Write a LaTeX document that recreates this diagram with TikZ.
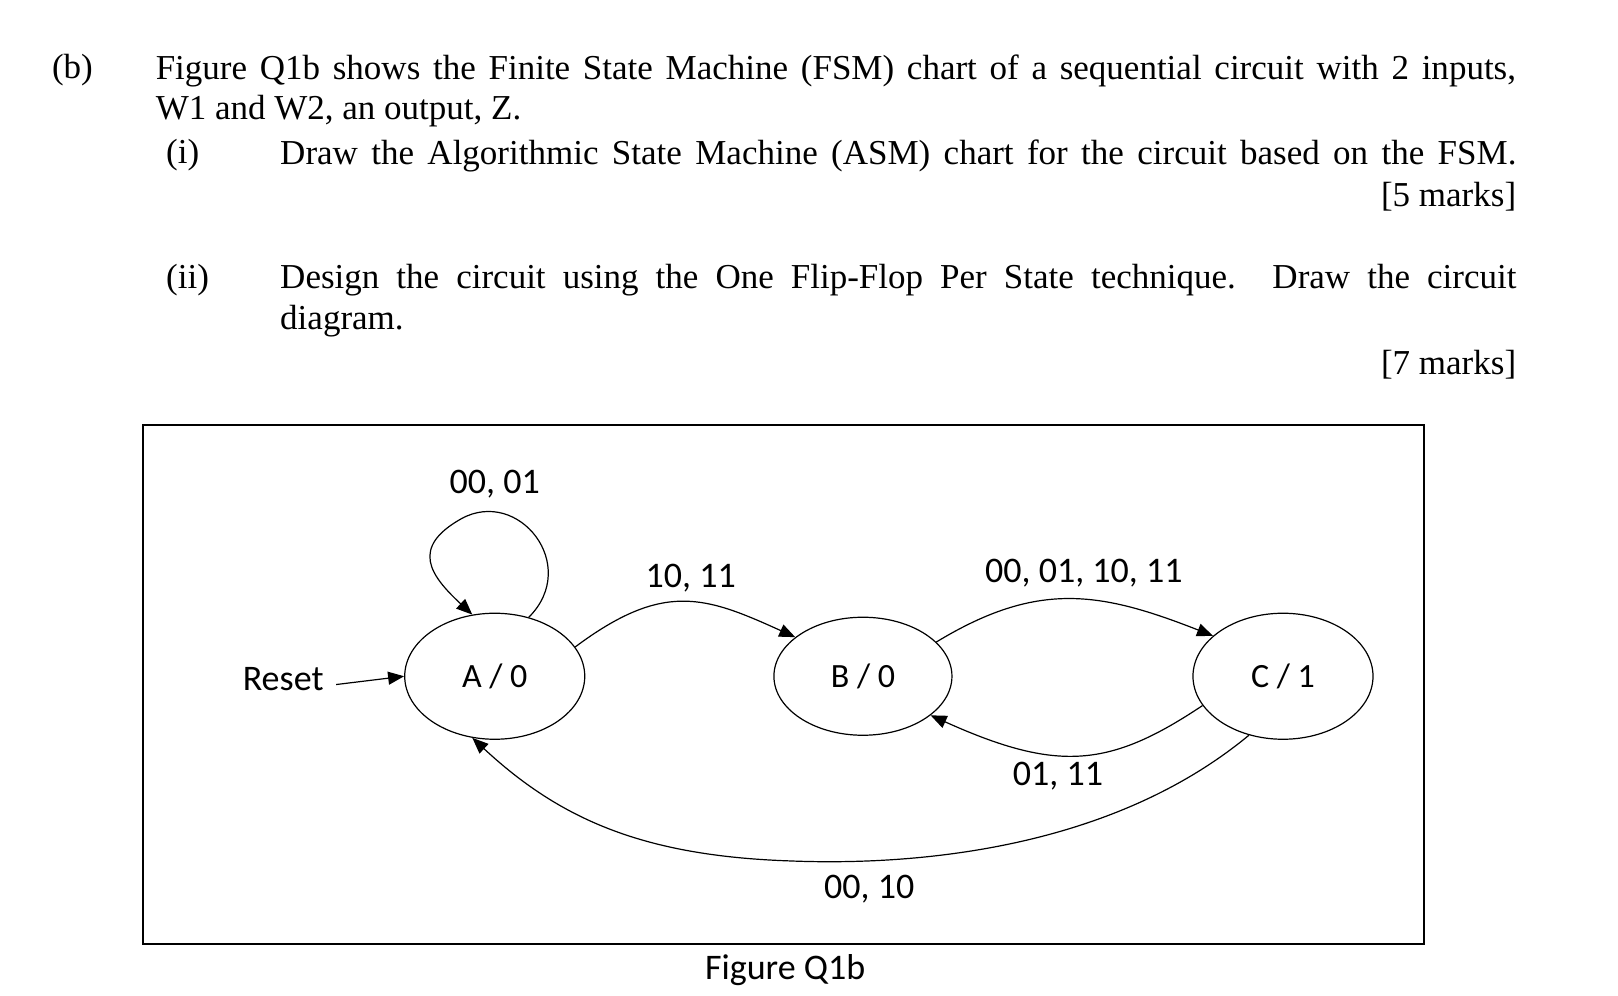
\documentclass[tikz,border=0pt]{standalone}
\usepackage{fontspec}
\setmainfont{Liberation Serif}
\newfontfamily\calib{Carlito}
\usetikzlibrary{arrows.meta,shapes.geometric}
\begin{document}
\begin{tikzpicture}[x=1.037pt,y=-1.037pt,
  txt/.style={font=\fontsize{35}{40}\selectfont,inner sep=0pt},
  lab/.style={font=\calib\fontsize{36}{40}\selectfont,inner sep=0pt},
  st/.style={draw,line width=1.2pt,ellipse,minimum width=180pt,minimum height=126pt,font=\calib\fontsize{34}{40}\selectfont},
  ar/.style={line width=1.2pt,-{Triangle[length=16pt,width=13pt]}}]
\useasboundingbox (0,0) rectangle (1560,960);
\node[txt,anchor=west] (b) at (50,68) {(b)};
\node[txt,anchor=west] (l1) at (150,68) {\makebox[1360pt][s]{Figure Q1b shows the Finite State Machine (FSM) chart of a sequential circuit with 2 inputs,}};
\node[txt,anchor=west] (l2) at (150,107) {W1 and W2, an output, Z.};
\node[txt,anchor=west] (i) at (160,150) {(i)};
\node[txt,anchor=west] (l3) at (270,150) {\makebox[1236pt][s]{Draw the Algorithmic State Machine (ASM) chart for the circuit based on the FSM.}};
\node[txt,anchor=east] (m5) at (1462,190) {[5 marks]};
\node[txt,anchor=west] (ii) at (160,270) {(ii)};
\node[txt,anchor=west] (l4) at (270,270) {\makebox[1236pt][s]{Design the circuit using the One Flip-Flop Per State technique. Draw the circuit}};
\node[txt,anchor=west] (l5) at (270,310) {diagram.};
\node[txt,anchor=east] (m7) at (1462,352) {[7 marks]};
\draw[line width=1.5pt] (138,410) rectangle (1373,910);
\node[st] (A) at (477,652) {A / 0};
\node[st,minimum width=178pt,minimum height=118pt] (B) at (832,652) {B / 0};
\node[st] (C) at (1237,652) {C / 1};
\node[lab] (reset) at (273,655) {Reset};
\draw[ar] (reset.east)+(12,5) -- (A.west);
\node[lab] (l01) at (477,467) {00, 01};
\draw[ar] (A.60) .. controls (560,545) and (500,470) .. (445,500) .. controls (395,528) and (415,555) .. (A.110);
\node[lab] (lab1) at (666,557) {10, 11};
\draw[ar] (A.20) .. controls (640,560) and (680,575) .. (B.150);
\node[lab] (lab2) at (1045,553) {00, 01, 10, 11};
\draw[ar] (B.25) .. controls (1000,560) and (1060,570) .. (C.150);
\node[lab] (lab3) at (1020,748) {01, 11};
\draw[ar] (C.200) .. controls (1070,740) and (1020,745) .. (B.-30);
\node[lab] (lab4) at (838,857) {00, 10};
\draw[ar] (C.-120) .. controls (1070,820) and (880,835) .. (760,830) .. controls (620,825) and (540,790) .. (A.-110);
\node[lab] (fig) at (757,935) {Figure Q1b};
\end{tikzpicture}
\end{document}
